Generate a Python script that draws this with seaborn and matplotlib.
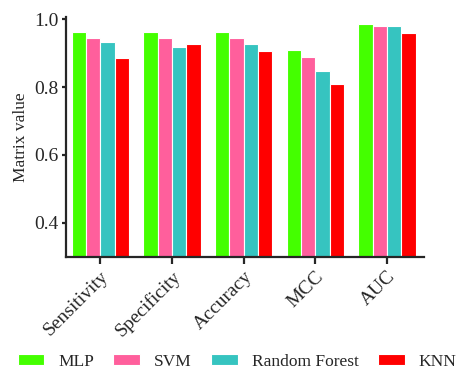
import pandas as pd
import matplotlib.pyplot as plt
import seaborn as sns

# Data
metrics = ['Sensitivity', 'Specificity', 'Accuracy', 'MCC', 'AUC']
models = ['MLP', 'SVM', 'Random Forest', 'KNN']
mlp = [0.963, 0.961, 0.961, 0.909, 0.984]
svm = [0.943, 0.943, 0.943, 0.889, 0.979]
rf = [0.933, 0.919, 0.926, 0.848, 0.979]
knn = [0.886, 0.927, 0.907, 0.809, 0.960]
colors = ['#44FF00', '#FF5F9C', '#36C4C0', '#FF0000']

# Long-form table for seaborn
rows = []
for model, vals in zip(models, [mlp, svm, rf, knn]):
    for metric, v in zip(metrics, vals):
        rows.append({'metric': metric, 'model': model, 'value': v})
df = pd.DataFrame(rows)

sns.set_style('ticks')
plt.rcParams['font.family'] = ['Liberation Serif', 'DejaVu Serif']

fig = plt.figure(figsize=(4.74, 3.88), dpi=100)
ax = fig.add_axes([0.139, 0.338, 0.756, 0.619])

sns.barplot(data=df, x='metric', y='value', hue='model', palette=colors,
            saturation=1, width=0.8, edgecolor='white', linewidth=0.8, ax=ax)

ax.set_ylim(0.3, 1.007)
ax.set_xlim(-0.48, 4.52)
ax.set_yticks([0.4, 0.6, 0.8, 1.0])
ax.set_yticklabels(['0.4', '0.6', '0.8', '1.0'], fontsize=14)
ax.set_xticks(range(len(metrics)))
ax.set_xticklabels(metrics, fontsize=14, rotation=45, ha='right', rotation_mode='anchor')
ax.set_xlabel('')
ax.set_ylabel('Matrix value', fontsize=12.5, labelpad=4)

sns.despine(ax=ax)
for s in ['left', 'bottom']:
    ax.spines[s].set_linewidth(1.6)
ax.tick_params(axis='x', length=5, width=1.6, pad=3)
ax.tick_params(axis='y', length=3, width=1.6, pad=2)

handles, labels = ax.get_legend_handles_labels()
ax.get_legend().remove()
fig.legend(handles, labels, loc='center', bbox_to_anchor=(0.5, 0.068), ncol=4,
           frameon=False, fontsize=12.5, handlelength=1.55, handleheight=0.6,
           handletextpad=0.8, columnspacing=1.1)

fig.savefig('out.png', dpi=100)
